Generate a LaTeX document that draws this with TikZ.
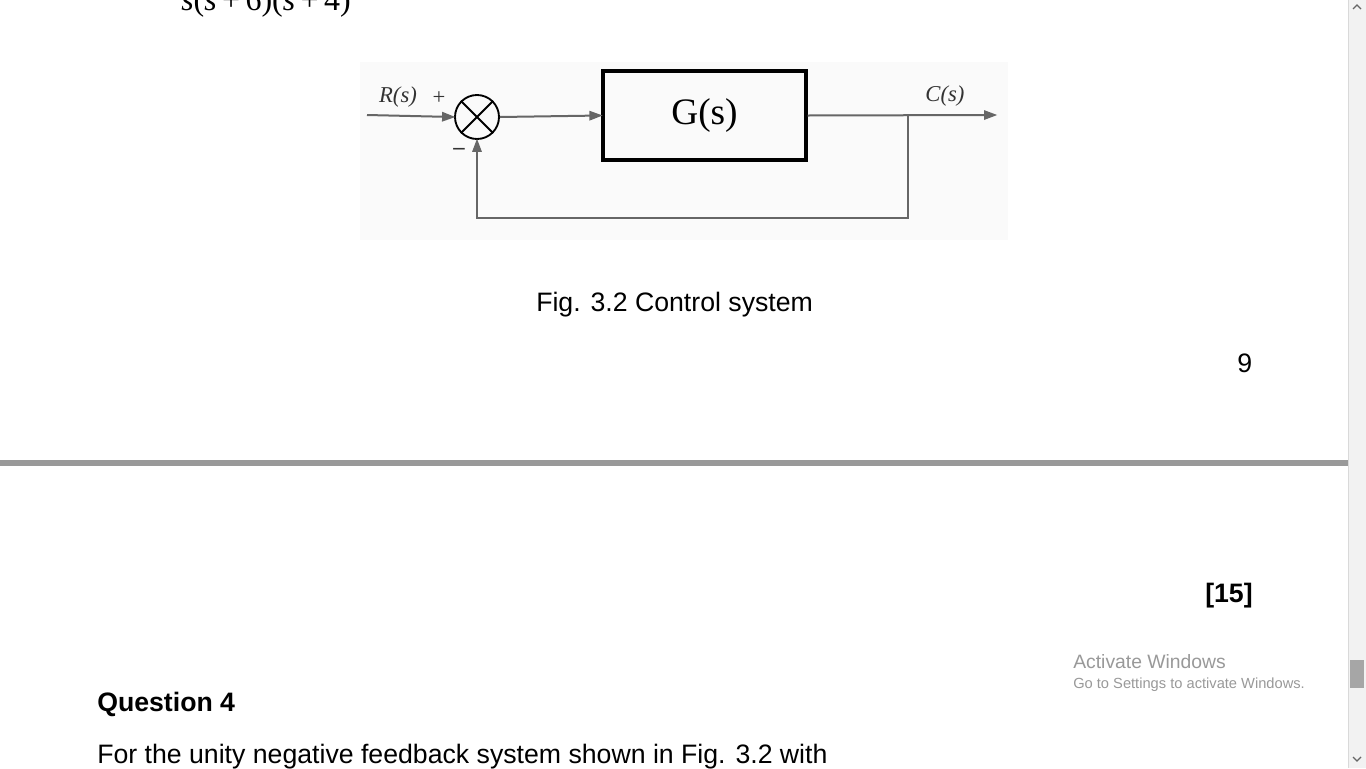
\documentclass[tikz,border=0pt]{standalone}
\usepackage{fontspec}
\setmainfont{Liberation Sans}
\newfontfamily\serifx{Liberation Serif}
\usetikzlibrary{arrows.meta}
\begin{document}
\begin{tikzpicture}[x=0.75pt,y=-0.75pt,
  sig/.style={draw=black!60,line width=1.5pt},
  arr/.style={sig,-{Triangle[length=10pt,width=7pt]},shorten >=-1pt},
  lab/.style={font=\serifx\fontsize{17}{17}\selectfont\itshape,text=black!80},
  body/.style={font=\fontsize{20}{22}\selectfont,anchor=west,inner sep=0}]
\useasboundingbox (0,0) rectangle (1366,768);
\fill[white] (0,0) rectangle (1366,768);
% top clipped formula
\node[font=\serifx\fontsize{24}{24}\selectfont,anchor=base west,inner sep=0] (eq) at (181,10) {\textit{s}(\textit{s}\,+\,6)(\textit{s}\,+\,4)};
% diagram background
\fill[black!2] (360,62) rectangle (1008,240);
\node[draw,circle,line width=1.4pt,minimum size=44pt*0.75,inner sep=0] (sum) at (477,117) {};
\draw[line width=1.4pt] (sum.north west) -- (sum.south east) (sum.north east) -- (sum.south west);
\node[draw,line width=2.4pt,minimum width=203*0.75pt,minimum height=89*0.75pt,inner sep=0,
  font=\serifx\fontsize{28}{28}\selectfont] (G) at (704.5,115.5) {G(s)};
\coordinate (in) at (367,115);
\coordinate (out) at (996,115);
\coordinate (br) at (908,115);
\coordinate (bl) at (908,218);
\coordinate (bc) at (477,218);
\draw[arr] (in) -- (sum.west);
\draw[arr] (sum.east) -- (G.west);
\draw[arr] (G.east) -- (out);
\draw[arr] (br) -- (bl) -- (bc) -- (sum.south);
\node[lab] (R) at (398,97) {R(s)};
\node[lab] (C) at (945,96) {C(s)};
\node[lab,font=\serifx\fontsize{17}{17}\selectfont] (plus) at (439,98) {+};
\node[lab,font=\serifx\fontsize{17}{17}\selectfont\bfseries] (minus) at (459,151) {\textendash};
% caption and page text
\node[body] (cap) at (536,305) {Fig. 3.2 Control system};
\node[body] (nine) at (1237,363) {9};
\fill[black!40] (0,460) rectangle (1348,466);
\node[body,font=\fontsize{20}{22}\selectfont\bfseries] (marks) at (1205,596) {[15]};
\node[body,font=\fontsize{20}{22}\selectfont\bfseries] (q4) at (97,704) {Question 4};
\node[body] (txt) at (97,757) {For the unity negative feedback system shown in Fig. 3.2 with};
\node[body,font=\fontsize{14.5}{16}\selectfont,text=black!40] (aw) at (1073,662) {Activate Windows};
\node[body,font=\fontsize{11}{12}\selectfont,text=black!40] (aw2) at (1073,685) {Go to Settings to activate Windows.};
% scrollbar
\fill[black!5] (1348,0) rectangle (1366,768);
\draw[black!15] (1348,0) -- (1348,768);
\fill[black!35] (1350,660) rectangle (1364,688);
\draw[black!60,line width=1pt] (1353,9) -- (1357,5) -- (1361,9);
\draw[black!60,line width=1pt] (1353,757) -- (1357,761) -- (1361,757);
\end{tikzpicture}
\end{document}
